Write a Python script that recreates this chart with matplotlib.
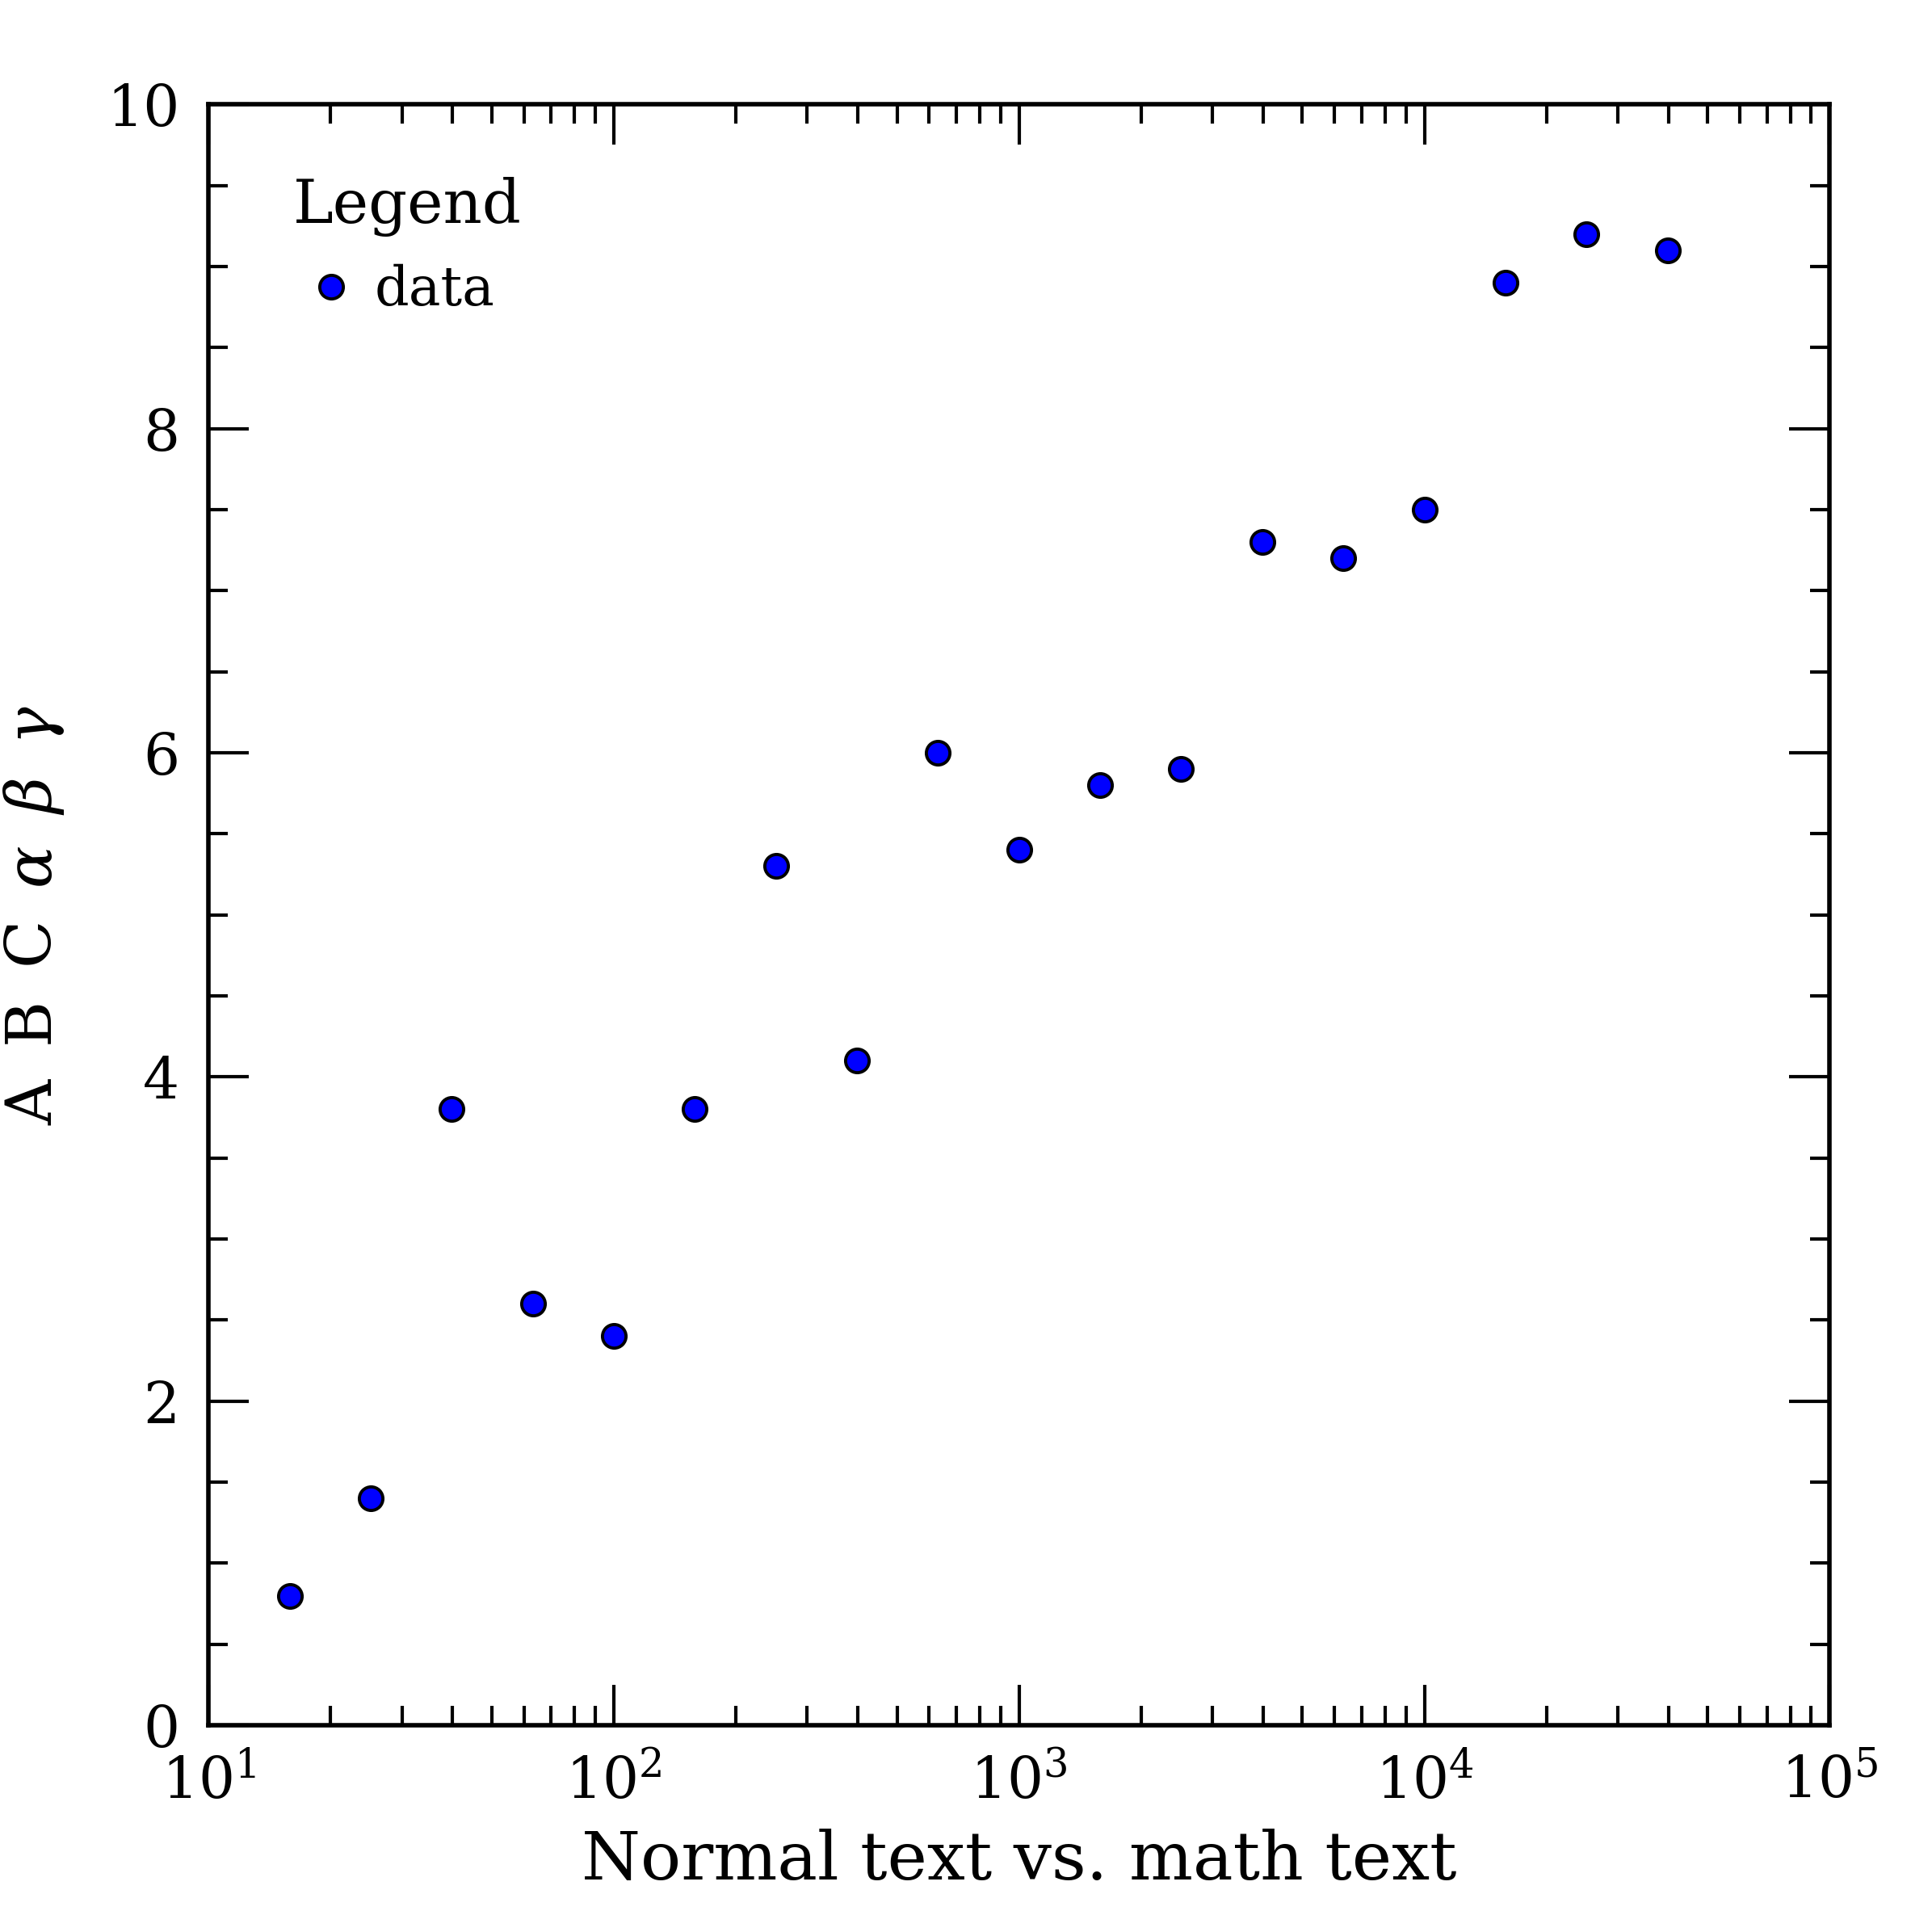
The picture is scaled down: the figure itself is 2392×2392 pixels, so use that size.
import matplotlib
matplotlib.use("Agg")
from matplotlib import pyplot as plt
from matplotlib.ticker import MultipleLocator, LogLocator

# values
x_vals = [15.85, 25.12, 39.81, 63.10, 100.0, 158.5, 251.2, 398.1, 631.0,
          1000.0, 1585.0, 2512.0, 3981.0, 6310.0, 10000.0, 15850.0, 25120.0, 39810.0]
y_vals = [0.8, 1.4, 3.8, 2.6, 2.4, 3.8, 5.3, 4.1, 6.0,
          5.4, 5.8, 5.9, 7.3, 7.2, 7.5, 8.9, 9.2, 9.1]

x_label = "Normal text vs. math text"
gap = " \u2009"
y_label = gap.join(["A", "B", "C", r"$\alpha$", r"$\beta$", r"$\gamma$"])

plt.rcParams['font.family'] = ['DejaVu Serif']
plt.rcParams['mathtext.fontset'] = 'dejavuserif'

fig = plt.figure(figsize=(11.96, 11.96), dpi=200)
ax = fig.add_axes([0.108, 0.107, 0.839, 0.839])

ax.plot(x_vals, y_vals, 'o', color='blue', markeredgecolor='black',
        markersize=10.5, markeredgewidth=1.4, label='data')

ax.set_xscale('log')
ax.set_xlim(10, 1e5)
ax.set_ylim(0, 10)
ax.yaxis.set_major_locator(MultipleLocator(2))
ax.yaxis.set_minor_locator(MultipleLocator(0.5))
ax.xaxis.set_major_locator(LogLocator(base=10))
ax.xaxis.set_minor_locator(LogLocator(base=10, subs=range(2, 10)))

for side in ax.spines.values():
    side.set_linewidth(2.0)
ax.tick_params(which='both', direction='in', top=True, right=True)
ax.tick_params(which='major', length=18, width=1.5, pad=13, labelsize=25.5)
ax.tick_params(which='minor', length=8.5, width=1.5)

ax.set_xlabel(x_label, fontsize=30, labelpad=8)
ax.set_ylabel(y_label, fontsize=28, labelpad=18)

leg = ax.legend(title='Legend', loc='upper left', frameon=False,
                fontsize=24, title_fontsize=27, alignment='left',
                bbox_to_anchor=(0.022, 0.985), handletextpad=0.07,
                handlelength=1.44)

fig.savefig("out.png", dpi=200)
